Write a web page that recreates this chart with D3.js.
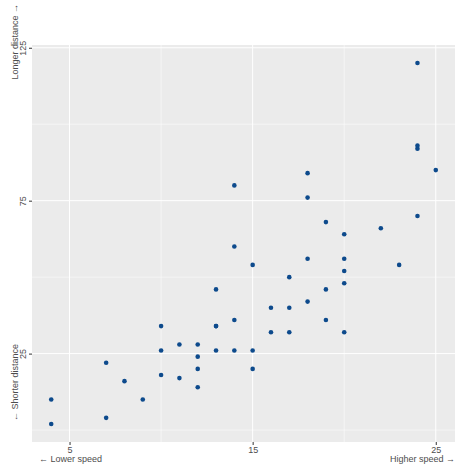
<!DOCTYPE html>
<html><head><meta charset="utf-8">
<script src="https://cdn.jsdelivr.net/npm/d3@7"></script>
<style>body{margin:0;background:#fff}text{font-family:"Liberation Sans",Arial,sans-serif}</style>
</head><body>
<svg id="chart" width="474" height="474"></svg>
<script>
// cars dataset: speed vs stopping distance
const speed = [4,4,7,7,8,9,10,10,10,11,11,12,12,12,12,13,13,13,13,14,14,14,14,15,15,15,16,16,17,17,17,18,18,18,18,19,19,19,20,20,20,20,20,22,23,24,24,24,24,25];
const dist = [2,10,4,22,16,10,18,26,34,17,28,14,20,24,28,26,34,34,46,26,36,60,80,20,26,54,32,40,32,40,50,42,56,76,84,36,46,68,32,48,52,56,64,66,54,70,92,93,120,85];
const xTicks = [5, 15, 25];
const xMinor = [10, 20];
const yTicks = [25, 75, 125];
const yMinor = [0, 50, 100];

const svg = d3.select("#chart");
const pLeft = 32, pRight = 455, pTop = 45, pBottom = 442;

let x = d3.scaleLinear().domain([2.95, 26.05]).range([pLeft, pRight]);
let y = d3.scaleLinear().domain([-3.9, 125.9]).range([pBottom, pTop]);

svg.append("rect").attr("x", pLeft).attr("y", pTop)
  .attr("width", pRight - pLeft).attr("height", pBottom - pTop).attr("fill", "#ebebeb");

// grid lines
const g = svg.append("g");
xMinor.forEach(v => g.append("line").attr("x1", x(v)).attr("x2", x(v)).attr("y1", pTop).attr("y2", pBottom).attr("stroke", "#fff").attr("stroke-width", 0.5));
yMinor.forEach(v => g.append("line").attr("y1", y(v)).attr("y2", y(v)).attr("x1", pLeft).attr("x2", pRight).attr("stroke", "#fff").attr("stroke-width", 0.5));
xTicks.forEach(v => g.append("line").attr("x1", x(v)).attr("x2", x(v)).attr("y1", pTop).attr("y2", pBottom).attr("stroke", "#fff").attr("stroke-width", 1));
yTicks.forEach(v => g.append("line").attr("y1", y(v)).attr("y2", y(v)).attr("x1", pLeft).attr("x2", pRight).attr("stroke", "#fff").attr("stroke-width", 1));

// points
svg.selectAll("circle").data(speed).join("circle")
  .attr("cx", d => x(d)).attr("cy", (d, i) => y(dist[i]))
  .attr("r", 2.3).attr("fill", "#0d4a8c");

// x axis
const xa = svg.append("g").attr("transform", `translate(0,${pBottom})`)
  .call(d3.axisBottom(x).tickValues(xTicks).tickSize(3).tickPadding(2));
xa.select(".domain").remove();
xa.selectAll("line").attr("stroke", "#333");
xa.selectAll("text").attr("fill", "#4d4d4d").style("font-size", "9px");

// y axis with rotated labels
const ya = svg.append("g").attr("transform", `translate(${pLeft},0)`)
  .call(d3.axisLeft(y).tickValues(yTicks).tickSize(3).tickFormat(d3.format("d")));
ya.select(".domain").remove();
ya.selectAll("line").attr("stroke", "#333");
ya.selectAll("text").attr("fill", "#4d4d4d").style("font-size", "9px")
  .attr("transform", "rotate(-90)").attr("x", 0).attr("y", -6).attr("dy", 0)
  .attr("text-anchor", "middle");

// axis titles
const t = svg.append("g").attr("fill", "#4d4d4d").style("font-size", "9px");
t.append("text").attr("x", 39).attr("y", 462).text("← Lower speed");
t.append("text").attr("x", 455).attr("y", 462).attr("text-anchor", "end").text("Higher speed →");
t.append("text").attr("transform", "translate(18,421) rotate(-90)").text("← Shorter distance");
t.append("text").attr("transform", "translate(18,4) rotate(-90)").attr("text-anchor", "end").text("Longer distance →");
</script>
</body></html>
